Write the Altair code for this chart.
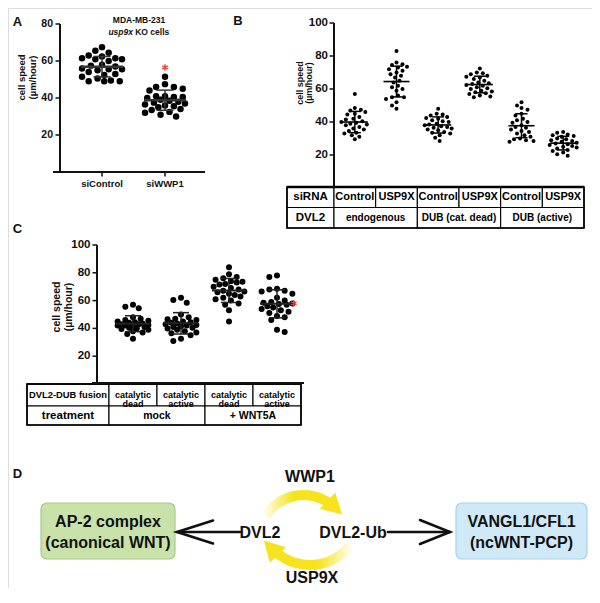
import math
import altair as alt
import pandas as pd

W, H = 584, 580
FONT = "Liberation Sans"
INK = "#111111"

# ---------------- values ----------------
A_groups = ["siControl", "siWWP1"]
A_siControl = [67.5, 65.5, 64.5, 63, 62.5, 61.5, 61.5, 61, 61, 60, 58, 57.5, 57,
               56, 55.5, 55.5, 55, 54, 53, 52.5, 51.5, 50.5, 49.5, 49, 49, 49]
A_siWWP1 = [51.5, 47.5, 46, 46, 45, 44, 41, 41, 40.5, 40.5, 40, 39, 38.5, 38,
            37.5, 37, 36.5, 36, 35.5, 35, 34, 33.5, 32.5, 32, 31, 30]
A_star_group = [1]
A_star_value = [56.5]
A_title = ["MDA-MB-231", "usp9x", "KO cells"]
A_yticks = [20, 40, 60, 80]

B_row_labels = ["siRNA", "DVL2"]
B_siRNA = ["Control", "USP9X", "Control", "USP9X", "Control", "USP9X"]
B_DVL2 = ["endogenous", "DUB (cat. dead)", "DUB (active)"]
B_endo_control = [57, 48.5, 47.5, 47, 46, 45, 44.5, 43, 42, 41.5, 40.5, 40, 39.5,
                  39, 38.5, 38, 37, 36, 35.5, 34.5, 33.5, 33, 32, 31, 29.5]
B_endo_usp9x = [83, 76, 75, 74.5, 73.5, 73, 72, 71, 70, 69, 68, 67, 65, 64, 62,
                61, 60, 59, 56, 55, 55, 54, 52, 50, 48]
B_dead_control = [48, 45, 44.5, 44, 43, 42.5, 42, 41, 40.5, 40, 39, 38.5, 38, 37.5,
                  37, 36.5, 36, 35.5, 35, 34, 33.5, 33, 32, 30.5, 28.5]
B_dead_usp9x = [72.5, 70, 69.5, 69, 68, 67.5, 67, 66, 65, 64, 63.5, 63, 62.5, 62,
                61, 60.5, 60, 59, 58.5, 58, 57.5, 57, 56, 55.5, 55]
B_active_control = [52, 50, 48.5, 47.5, 45, 44, 42, 41, 40, 39.5, 38, 37, 36.5,
                    35.5, 34.5, 34, 33, 32, 31, 30, 29.5, 29, 28.5, 28]
B_active_usp9x = [34, 33.5, 32.5, 32, 31.5, 31, 30, 29.5, 29, 28.5, 28, 27.5, 27,
                  26.5, 26, 25.5, 25, 24.5, 24, 23, 22.5, 21.5, 20.5, 19.5]
BC_yticks = [20, 40, 60, 80, 100]

C_row_labels = ["DVL2-DUB fusion", "treatment"]
C_fusion = ["catalytic\ndead", "catalytic\nactive", "catalytic\ndead", "catalytic\nactive"]
C_treatment = ["mock", "+ WNT5A"]
C_mock_dead = [57, 55.5, 54.5, 48, 47, 46, 45.5, 45, 44.5, 44, 43.5, 43, 43, 42.5,
               42, 42, 41.5, 41, 40.5, 40, 39.5, 39, 38, 37, 36, 32.5]
C_mock_active = [62, 60.5, 58.5, 50, 48, 47, 46.5, 46, 45, 44.5, 44, 43.5, 43, 42.5,
                 42, 41.5, 41, 40.5, 40, 39, 38, 37, 36.5, 35, 32.5, 31]
C_wnt_dead = [84, 79, 77, 76, 75, 74, 73.5, 73, 72, 71.5, 70, 69, 68, 67, 66.5, 66,
              65, 64, 63, 62, 61, 60, 58, 57, 53, 45]
C_wnt_active = [78, 77, 68.5, 68, 67, 66.5, 65, 62, 60, 59, 58.5, 58, 57.5, 57, 56,
                55, 54, 53, 52, 51, 49, 48, 46, 39, 37.5]
C_star_group = [3]
C_star_value = [58]

AXIS_TITLE = "cell speed\n(\u00b5m/hour)"
PANEL_LETTERS = ["A", "B", "C", "D"]
D_box_text = [["AP-2 complex", "(canonical WNT)"], ["VANGL1/CFL1", "(ncWNT-PCP)"]]
D_nodes = ["DVL2", "DVL2-Ub"]
D_enzymes = ["WWP1", "USP9X"]


# ---------------- layout helpers (page pixel coordinates) ----------------
def px(v):
    return v - 8


def lin(domain, rng):
    return alt.Scale(domain=domain, range=rng, nice=False, zero=False)


def swarm_offsets(vals, ypx, d, cap):
    """Deterministic beeswarm placement (pixels), widest offset limited to cap."""
    order = sorted(range(len(vals)), key=lambda i: -vals[i])
    step = d * 0.3
    n_steps = max(1, int(cap / step))
    cands = [0.0]
    for k in range(1, n_steps + 1):
        cands += [k * step, -k * step]
    placed = []
    off = [0.0] * len(vals)
    for n, i in enumerate(order):
        y = vals[i] * ypx
        seq = cands if n % 2 == 0 else [-c for c in cands]
        best, best_md = 0.0, -1.0
        for c in seq:
            md = min([math.hypot(c - a, y - b) for a, b in placed] or [1e9])
            if md >= d:
                best = c
                break
            if md > best_md:
                best, best_md = c, md
        placed.append((best, y))
        off[i] = best
    return off


def panel_df(groups, ypx, xpx, d, cap):
    rows = []
    for g, vals in enumerate(groups):
        offs = swarm_offsets(vals, ypx, d, cap)
        for v, o in zip(vals, offs):
            rows.append({"g": g, "v": v, "jx": g + o / xpx})
    return pd.DataFrame(rows)


def y_axis(ticks, top, ax, ys, lsize, lgap):
    Y = lambda f: alt.Y(f, scale=ys, axis=None)
    dom = pd.DataFrame({"lo": [0], "hi": [top]})
    tk = pd.DataFrame({"v": ticks, "lab": [str(t) for t in ticks]})
    line = alt.Chart(dom).mark_rule(color=INK, strokeWidth=2).encode(
        x=alt.value(ax), y=Y("lo:Q"), y2="hi:Q")
    tmarks = alt.Chart(tk).mark_rule(color=INK, strokeWidth=1.5).encode(
        x=alt.value(ax - 4.5), x2=alt.value(ax), y=Y("v:Q"))
    labels = alt.Chart(tk).mark_text(align="right", baseline="middle", font=FONT,
                                     fontWeight="bold", fontSize=lsize, color=INK).encode(
        x=alt.value(ax - lgap), y=Y("v:Q"), text="lab:N")
    return [line, tmarks, labels]


def x_line(xs, dom, ay):
    d = pd.DataFrame({"lo": [dom[0]], "hi": [dom[1]]})
    return alt.Chart(d).mark_rule(color=INK, strokeWidth=2).encode(
        x=alt.X("lo:Q", scale=xs, axis=None), x2="hi:Q", y=alt.value(ay))


def scatter(df, xs, ys, pt, mean_w, cap_w, lcol, mthick):
    pts = alt.Chart(df).mark_circle(size=pt, color="black", opacity=1).encode(
        x=alt.X("jx:Q", scale=xs, axis=None), y=alt.Y("v:Q", scale=ys, axis=None))
    base = alt.Chart(df).transform_aggregate(
        m="mean(v)", sd="stdev(v)", groupby=["g"]).transform_calculate(
        lo="datum.m - datum.sd", hi="datum.m + datum.sd")
    xg = alt.X("g:Q", scale=xs, axis=None)
    whisk = base.mark_rule(color=lcol, strokeWidth=1.5).encode(
        x=xg, y=alt.Y("lo:Q", scale=ys, axis=None), y2="hi:Q")
    out = [pts, whisk]
    for field, w, t in [("m", mean_w, mthick), ("lo", cap_w, 1.5), ("hi", cap_w, 1.5)]:
        out.append(base.mark_tick(orient="horizontal", size=w, thickness=t,
                                  color=lcol, opacity=1).encode(
            x=xg, y=alt.Y(field + ":Q", scale=ys, axis=None)))
    return out


STAR = "M0,-1L0,1M-0.87,-0.5L0.87,0.5M-0.87,0.5L0.87,-0.5"


def star(groups, values, dx, xs, ys):
    df = pd.DataFrame({"x": [g + dx for g in groups], "y": values})
    return alt.Chart(df).mark_point(shape=STAR, filled=False, color="#e8473c",
                                    strokeWidth=1.4, size=42, opacity=1).encode(
        x=alt.X("x:Q", scale=xs, axis=None), y=alt.Y("y:Q", scale=ys, axis=None))


def table(cells, xs, ys, left, right, nrows, top_w, lh):
    cdf = pd.DataFrame(cells)
    cdf["xc"] = (cdf["x1"] + cdf["x2"]) / 2
    cdf["rc"] = (cdf["r1"] + cdf["r2"]) / 2
    X1 = alt.X("x1:Q", scale=xs, axis=None)
    Y1 = alt.Y("r1:Q", scale=ys, axis=None)
    rect = alt.Chart(cdf).mark_rect(fill="white", stroke="black", strokeWidth=1.1).encode(
        x=X1, x2="x2:Q", y=Y1, y2="r2:Q")
    txt = alt.Chart(cdf).mark_text(font=FONT, fontWeight="bold", baseline="middle",
                                   align="center", lineBreak="\n", lineHeight=lh,
                                   color="black").encode(
        x=alt.X("xc:Q", scale=xs, axis=None), y=alt.Y("rc:Q", scale=ys, axis=None),
        text="text:N", size=alt.Size("fs:Q", scale=None))
    edge = pd.DataFrame({"x1": [left], "x2": [right], "r1": [0], "r2": [nrows]})
    frame = alt.Chart(edge).mark_rect(fill="white", fillOpacity=0, stroke="black",
                                      strokeWidth=1.6).encode(x=X1, x2="x2:Q", y=Y1, y2="r2:Q")
    top = alt.Chart(edge).mark_rule(color="black", strokeWidth=top_w).encode(
        x=X1, x2="x2:Q", y=Y1)
    return [rect, txt, frame, top]


# ---------------- panel A ----------------
xA_dom = [-0.778, 1.635]
xA = lin(xA_dom, [px(53), px(205)])
yA = lin([0, 80], [px(172), px(24)])
dfA = panel_df([A_siControl, A_siWWP1], 1.85, 63.0, 7.4, 21)
A_parts = scatter(dfA, xA, yA, 42, 42, 17, "#333333", 2.5)
A_parts.append(star(A_star_group, A_star_value, 0, xA, yA))
A_parts += y_axis(A_yticks, 80, px(60), yA, 10.5, 7)
A_parts.append(x_line(xA, xA_dom, px(172)))
tkA = pd.DataFrame({"g": list(range(len(A_groups))), "lab": A_groups})
A_parts.append(alt.Chart(tkA).mark_rule(color=INK, strokeWidth=1.5).encode(
    x=alt.X("g:Q", scale=xA, axis=None), y=alt.value(px(172)), y2=alt.value(px(176.5))))
A_parts.append(alt.Chart(tkA).mark_text(baseline="top", align="center", font=FONT,
                                        fontWeight="bold", fontSize=9.5, color=INK).encode(
    x=alt.X("g:Q", scale=xA, axis=None), y=alt.value(px(178.5)), text="lab:N"))
panelA = alt.layer(*A_parts)

# ---------------- panel B ----------------
xB = lin([-0.5, 5.5], [px(334), px(584)])
yB = lin([0, 100], [px(188), px(23)])
dfB = panel_df([B_endo_control, B_endo_usp9x, B_dead_control, B_dead_usp9x,
                B_active_control, B_active_usp9x], 1.65, 41.67, 5.0, 14)
B_parts = scatter(dfB, xB, yB, 16, 26, 12, "black", 1.6)
B_parts += y_axis(BC_yticks, 100, px(334), yB, 11.5, 6)
panelB = alt.layer(*B_parts)

TB_LEFT = -1.628
cellsB = [dict(x1=TB_LEFT, x2=-0.5, r1=0, r2=1, text=B_row_labels[0], fs=11.5)]
for i, t in enumerate(B_siRNA):
    cellsB.append(dict(x1=i - 0.5, x2=i + 0.5, r1=0, r2=1, text=t, fs=11))
cellsB.append(dict(x1=TB_LEFT, x2=-0.5, r1=1, r2=2, text=B_row_labels[1], fs=11.5))
for j, t in enumerate(B_DVL2):
    cellsB.append(dict(x1=2 * j - 0.5, x2=2 * j + 1.5, r1=1, r2=2, text=t, fs=10))
tblB = alt.layer(*table(cellsB, xB, lin([0, 2], [px(187), px(228)]),
                        TB_LEFT, 5.5, 2, 2.6, 11))

# ---------------- panel C ----------------
xC_dom = [-0.854, 3.5625]
xC = lin(xC_dom, [px(92), px(304)])
yC = lin([0, 100], [px(384), px(245)])
dfC = panel_df([C_mock_dead, C_mock_active, C_wnt_dead, C_wnt_active], 1.39, 48.0, 6.4, 16)
C_parts = scatter(dfC, xC, yC, 36, 34, 16, "#222222", 2)
C_parts.append(star(C_star_group, C_star_value, 0.35, xC, yC))
C_parts += y_axis(BC_yticks, 100, px(97), yC, 11.5, 6.5)
C_parts.append(x_line(xC, xC_dom, px(383)))
panelC = alt.layer(*C_parts)

TC_LEFT = -2.208
cellsC = [dict(x1=TC_LEFT, x2=-0.5, r1=0, r2=1, text=C_row_labels[0], fs=9.4)]
for i, t in enumerate(C_fusion):
    cellsC.append(dict(x1=i - 0.5, x2=i + 0.5, r1=0, r2=1, text=t, fs=9))
cellsC.append(dict(x1=TC_LEFT, x2=-0.5, r1=1, r2=2, text=C_row_labels[1], fs=11.5))
for j, t in enumerate(C_treatment):
    cellsC.append(dict(x1=2 * j - 0.5, x2=2 * j + 1.5, r1=1, r2=2, text=t, fs=10.5))
tblC = alt.layer(*table(cellsC, xC, lin([0, 1, 2], [px(384), px(406), px(425)]),
                        TC_LEFT, 3.5, 2, 1.6, 9.2))

# ---------------- page-level annotations and diagram D ----------------
PX = lin([0, 600], [-8, 592])
PY = lin([0, 603], [-8, 595])
XP = lambda f: alt.X(f, scale=PX, axis=None)
YP = lambda f: alt.Y(f, scale=PY, axis=None)

letter_xy = [(17.5, 26), (238, 25), (17.5, 233), (17.5, 477.5)]
center_txt = [dict(t=l, x=p[0], y=p[1], fs=13) for l, p in zip(PANEL_LETTERS, letter_xy)]
center_txt.append(dict(t=A_title[0], x=139, y=23, fs=8.5))
for k, lines in enumerate(D_box_text):
    cx = [108, 521.5][k]
    center_txt.append(dict(t=lines[0], x=cx, y=527, fs=16))
    center_txt.append(dict(t=lines[1], x=cx, y=548, fs=16))
for name, cx in zip(D_nodes, [260, 353]):
    center_txt.append(dict(t=name, x=cx, y=538, fs=16))
for name, cx, cy in zip(D_enzymes, [310, 312], [482, 583]):
    center_txt.append(dict(t=name, x=cx, y=cy, fs=16))
ctd = pd.DataFrame(center_txt)
t_center = alt.Chart(ctd).mark_text(font=FONT, fontWeight="bold", align="center",
                                    baseline="alphabetic", color=INK).encode(
    x=XP("x:Q"), y=YP("y:Q"), text="t:N", size=alt.Size("fs:Q", scale=None))
t_ital = alt.Chart(pd.DataFrame({"t": [A_title[1]], "x": [133], "y": [34.5]})).mark_text(
    font=FONT, fontWeight="bold", fontStyle="italic", align="right", baseline="alphabetic",
    fontSize=8.5, color=INK).encode(x=XP("x:Q"), y=YP("y:Q"), text="t:N")
t_left = alt.Chart(pd.DataFrame({"t": [A_title[2]], "x": [135.2], "y": [34.5]})).mark_text(
    font=FONT, fontWeight="bold", align="left", baseline="alphabetic",
    fontSize=8.5, color=INK).encode(x=XP("x:Q"), y=YP("y:Q"), text="t:N")

# rotated y-axis titles (A, B, C); block of two lines centred on (cx, cy)
ytitles = []
for cx, cy, fs in [(27.5, 77.5, 9.5), (304.5, 83, 9), (63, 307, 10.5)]:
    lh = fs * 1.1
    ytitles.append(alt.Chart(pd.DataFrame({"t": [AXIS_TITLE], "x": [cx - lh / 2],
                                           "y": [cy]})).mark_text(
        font=FONT, fontWeight="bold", align="center", baseline="middle", angle=270,
        lineBreak="\n", lineHeight=lh, fontSize=fs, color=INK).encode(
        x=XP("x:Q"), y=YP("y:Q"), text="t:N"))

boxes = pd.DataFrame({"x1": [41, 456], "x2": [175, 587], "y1": [503, 503], "y2": [559, 559],
                      "fill": ["#c9e2aa", "#d0e9f7"], "stroke": ["#aac88e", "#a3d2ee"]})
box_marks = alt.Chart(boxes).mark_rect(cornerRadius=6, strokeWidth=1.2).encode(
    x=XP("x1:Q"), x2="x2:Q", y=YP("y1:Q"), y2="y2:Q",
    fill=alt.Fill("fill:N", scale=None), stroke=alt.Stroke("stroke:N", scale=None))

shafts = pd.DataFrame({"x1": [177, 388], "x2": [240, 450], "y": [532, 532]})
shaft_marks = alt.Chart(shafts).mark_rule(color=INK, strokeWidth=2.6, strokeCap="round").encode(
    x=XP("x1:Q"), x2="x2:Q", y=YP("y:Q"))
chev_l = alt.Chart(pd.DataFrame({"x": [195], "y": [532]})).mark_point(
    shape="M1,-0.64L-1,0L1,0.64", filled=False, color=INK, strokeWidth=2.6, size=1296,
    opacity=1, strokeCap="round").encode(x=XP("x:Q"), y=YP("y:Q"))
chev_r = alt.Chart(pd.DataFrame({"x": [435], "y": [532]})).mark_point(
    shape="M-1,-0.8L1,0L-1,0.8", filled=False, color=INK, strokeWidth=2.6, size=900,
    opacity=1, strokeCap="round").encode(x=XP("x:Q"), y=YP("y:Q"))

YEL = "#f6e31d"
DEG = math.pi / 180
arc_top = pd.DataFrame({"x": [303.5], "y": [540], "t1": [-57 * DEG], "t2": [36 * DEG]})
arc_bot = pd.DataFrame({"x": [310], "y": [514], "t1": [128 * DEG], "t2": [220 * DEG]})
g_top = alt.LinearGradient(gradient="linear", x1=0, x2=1, y1=0, y2=0, stops=[
    alt.GradientStop(color="#ffffff", offset=0), alt.GradientStop(color=YEL, offset=0.45),
    alt.GradientStop(color=YEL, offset=1)])
g_bot = alt.LinearGradient(gradient="linear", x1=0, x2=1, y1=0, y2=0, stops=[
    alt.GradientStop(color=YEL, offset=0), alt.GradientStop(color=YEL, offset=0.55),
    alt.GradientStop(color="#ffffff", offset=1)])
arc1 = alt.Chart(arc_top).mark_arc(innerRadius=40, outerRadius=50, fill=g_top).encode(
    x=XP("x:Q"), y=YP("y:Q"), theta=alt.Theta("t1:Q", scale=None, stack=False),
    theta2="t2:Q")
arc2 = alt.Chart(arc_bot).mark_arc(innerRadius=46, outerRadius=56, fill=g_bot).encode(
    x=XP("x:Q"), y=YP("y:Q"), theta=alt.Theta("t1:Q", scale=None, stack=False),
    theta2="t2:Q")
heads = pd.DataFrame({"x": [334.0, 271.7], "y": [506.8, 548.5], "ang": [44, 226]})
head_marks = alt.Chart(heads).mark_point(shape="M-0.8,-1L1,0L-0.8,1Z", filled=True,
                                         color=YEL, size=500, opacity=1).encode(
    x=XP("x:Q"), y=YP("y:Q"), angle=alt.Angle("ang:Q", scale=None))

page = alt.layer(box_marks, arc1, arc2, head_marks, shaft_marks, chev_l, chev_r,
                 t_center, t_ital, t_left, *ytitles)

chart = alt.layer(tblB, tblC, panelA, panelB, panelC, page).resolve_scale(
    x="independent", y="independent").properties(
    width=W, height=H, padding=0, autosize=alt.AutoSizeParams(type="none")).configure_view(
    stroke="transparent").configure(font=FONT)

chart.save("out.html", embed_options={"renderer": "svg", "actions": False})
